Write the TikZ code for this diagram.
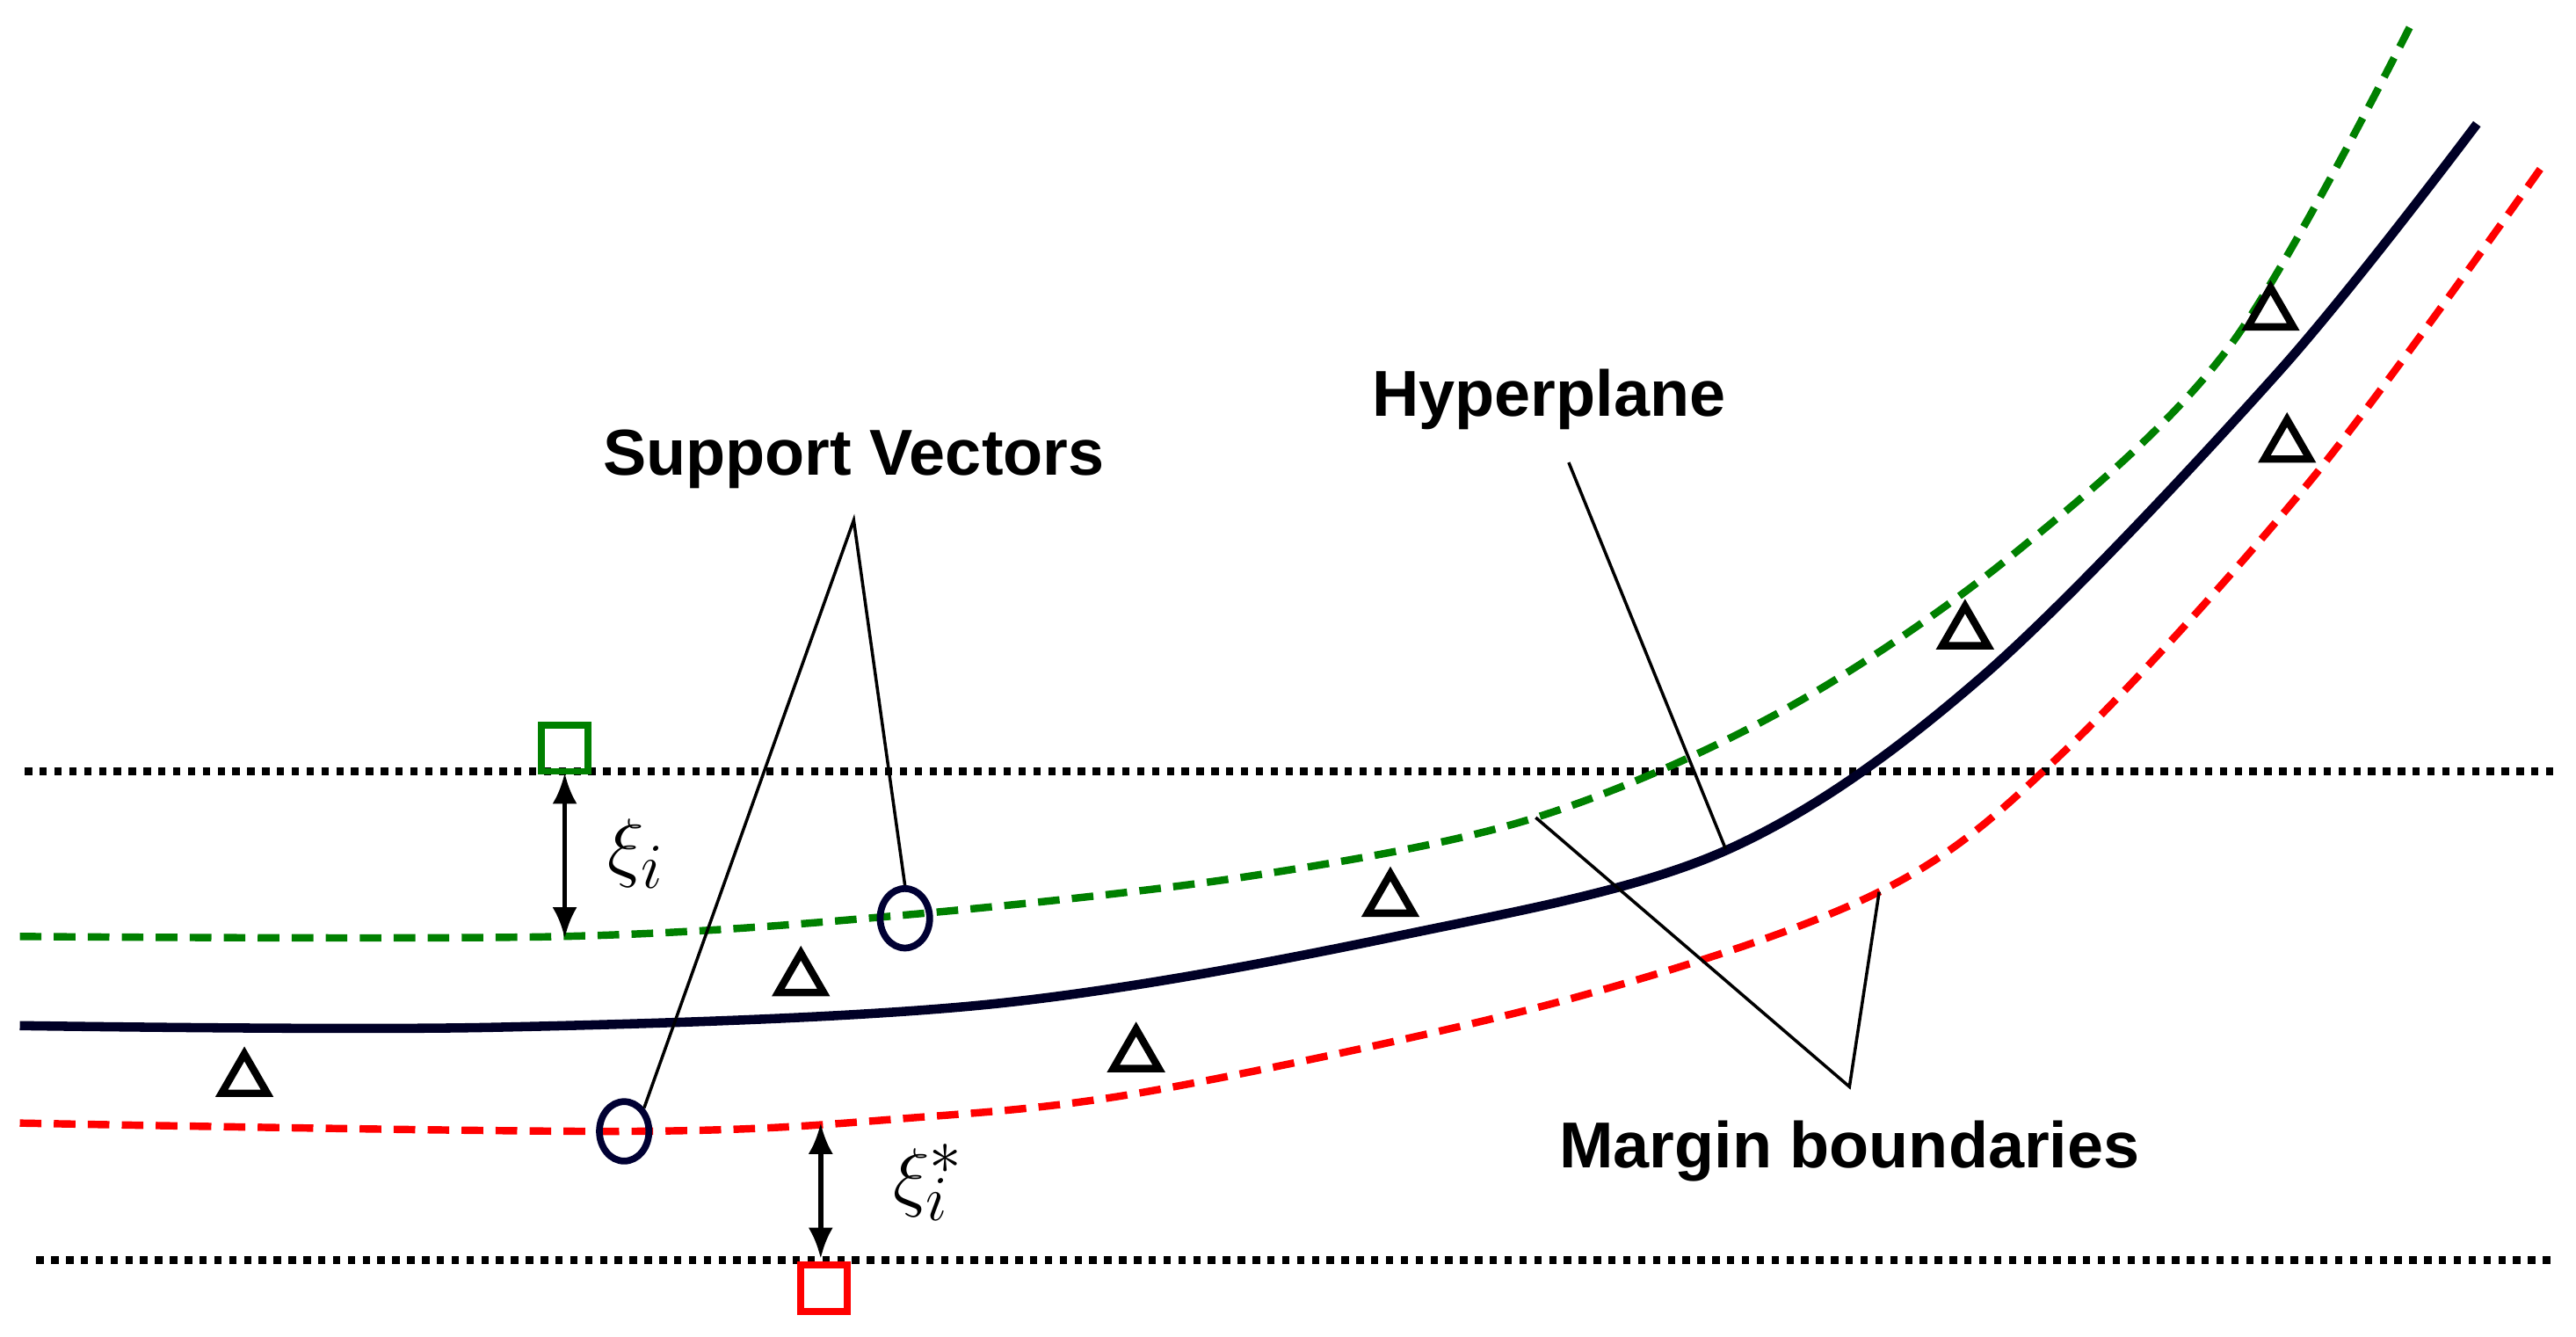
\documentclass[tikz,border=0pt]{standalone}
\usepackage{fontspec}
\setmainfont{Liberation Sans}
\usetikzlibrary{shapes.geometric,arrows.meta}
\begin{document}
\begin{tikzpicture}[x=0.01879cm,y=-0.01879cm,
  lbl/.style={font=\bfseries\fontsize{21}{24}\selectfont},
  tri/.style={draw=black,line width=2.4pt,regular polygon,regular polygon sides=3,inner sep=0pt,minimum size=17pt},
  sv/.style={draw=black!80!blue,line width=2.2pt,ellipse,minimum width=30*0.01879cm,minimum height=36*0.01879cm,inner sep=0pt},
  sq/.style={line width=2.2pt,rectangle,minimum size=28*0.01879cm,inner sep=0pt},
  lead/.style={black,line width=1pt},
  dsh/.style={line width=2.4pt,dash pattern=on 7pt off 4pt},
  dbl/.style={line width=1.6pt,{Latex[length=10pt,width=8pt]}-{Latex[length=10pt,width=8pt]}}]
\useasboundingbox (0,0) rectangle (1560,809);
% horizontal dotted lines
\draw[line width=2.4pt,dash pattern=on 2.4pt off 2.4pt] (15,467) -- (1548,467);
\draw[line width=2.4pt,dash pattern=on 2.4pt off 2.4pt] (22,763) -- (1548,763);
% curves
\draw[green!50!black,dsh] plot[smooth,tension=0.55] coordinates {(12,567) (340,567) (548,554) (760,530) (930,495) (1080,430) (1220,335) (1350,210) (1460,15)};
\draw[black!85!blue,line width=3pt] plot[smooth,tension=0.55] coordinates {(12,621) (300,622) (600,608) (850,566) (1045,515) (1200,410) (1380,225) (1500,75)};
\draw[red,dsh] plot[smooth,tension=0.55] coordinates {(12,680) (380,685) (550,677) (700,660) (950,605) (1138,540) (1250,455) (1400,290) (1540,100)};
% squares
\node[sq,draw=green!50!black] (gs) at (342,453) {};
\node[sq,draw=red] (rs) at (499,780) {};
% slack arrows
\coordinate (g1) at (342,468);
\coordinate (g2) at (342,568);
\draw[dbl] (g1) -- (g2);
\node (xi) at (385,517) {\fontsize{32}{34}\selectfont$\xi_i$};
\coordinate (r1) at (497,680);
\coordinate (r2) at (497,762);
\draw[dbl] (r1) -- (r2);
\node (xis) at (562,716) {\fontsize{32}{34}\selectfont$\xi_i^*$};
% support vectors
\node[sv] (c1) at (548,556) {};
\node[sv] (c2) at (378,685) {};
% triangles
\foreach \n/\p in {t1/{(1375,190)},t2/{(1385,270)},t3/{(1190,383)},t4/{(842,545)},t5/{(485,593)},t6/{(148,654)},t7/{(688,639)}}
  \node[tri] (\n) at \p {};
% labels
\node[lbl] (svl) at (517,278) {Support Vectors};
\coordinate (sva) at (517,315);
\draw[lead] (c1.north) -- (sva) -- (c2.north east);
\node[lbl] (hl) at (938,242) {Hyperplane};
\coordinate (ha) at (950,280);
\coordinate (hb) at (1045,514);
\draw[lead] (ha) -- (hb);
\node[lbl] (ml) at (1120,697) {Margin boundaries};
\coordinate (ma) at (1120,658);
\coordinate (mb) at (930,495);
\coordinate (mc) at (1138,540);
\draw[lead] (mb) -- (ma) -- (mc);
\end{tikzpicture}
\end{document}
